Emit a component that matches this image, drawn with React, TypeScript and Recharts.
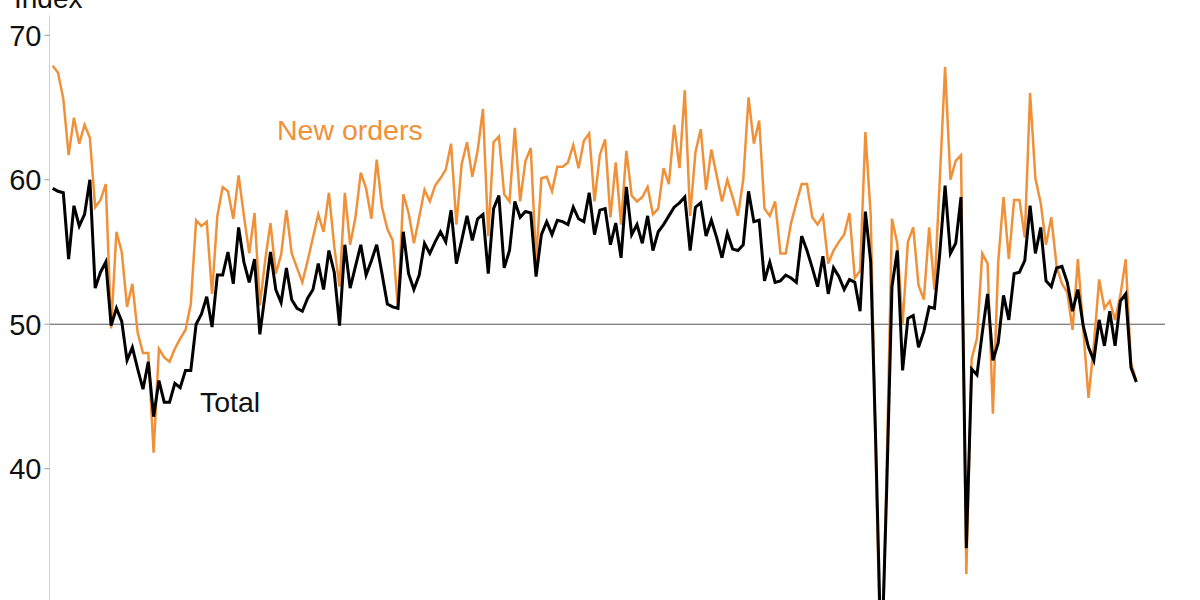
import React from "react";
import { LineChart, Line, XAxis, YAxis, ReferenceLine } from "recharts";

// monthly index readings, oldest first
const newOrders = [
  67.9, 67.4, 65.6, 61.7, 64.3, 62.5, 63.8, 62.9, 58.1, 58.6,
  59.7, 49.7, 56.4, 55.0, 51.2, 52.8, 49.4, 48.0, 48.0, 41.1,
  48.3, 47.7, 47.4, 48.3, 49.0, 49.6, 51.4, 57.2, 56.8, 57.1,
  52.1, 57.5, 59.5, 59.2, 57.3, 60.3, 57.5, 54.9, 57.7, 51.3,
  54.4, 57.0, 53.5, 54.8, 57.9, 54.9, 53.9, 52.9, 54.4, 56.0,
  57.6, 56.4, 59.1, 55.4, 52.6, 59.1, 55.5, 57.4, 60.5, 59.4,
  57.3, 61.4, 58.1, 56.6, 55.8, 51.1, 59.0, 57.7, 55.6, 57.4,
  59.3, 58.5, 59.6, 60.1, 60.7, 62.5, 56.9, 61.1, 62.6, 60.2,
  62.0, 64.9, 56.1, 62.6, 63.0, 59.0, 58.5, 63.6, 58.5, 61.3,
  62.2, 54.4, 60.1, 60.2, 59.2, 60.9, 60.9, 61.2, 62.4, 60.8,
  62.7, 63.2, 58.5, 61.7, 62.8, 57.4, 61.2, 56.9, 62.0, 58.9,
  58.5, 58.8, 59.5, 57.6, 58.0, 60.8, 59.7, 63.8, 60.8, 66.2,
  57.5, 61.9, 63.5, 59.3, 62.1, 60.3, 58.5, 60.0, 58.8, 57.5,
  60.0, 65.7, 62.5, 64.1, 58.0, 57.5, 58.5, 54.9, 54.9, 57.0,
  58.4, 59.7, 59.7, 57.4, 56.9, 57.5, 54.2, 55.1, 55.7, 56.2,
  57.7, 53.2, 53.7, 63.3, 57.5, 40.0, 24.0, 40.0, 57.3, 55.6,
  50.0, 55.7, 56.7, 52.7, 51.7, 56.7, 52.4, 60.0, 67.8, 60.0,
  61.3, 61.7, 32.7, 47.6, 49.0, 54.9, 54.2, 43.8, 54.3, 58.8,
  54.5, 58.6, 58.6, 56.0, 66.0, 60.1, 58.4, 55.5, 57.4, 54.0,
  52.8, 52.2, 49.6, 54.5, 49.7, 44.9, 48.5, 53.1, 51.1, 51.6,
  50.3, 52.0, 54.5, 47.3, 46.1,
];

const total = [
  59.4, 59.2, 59.1, 54.5, 58.2, 56.8, 57.6, 60.0, 52.5, 53.6,
  54.3, 49.9, 51.1, 50.2, 47.5, 48.4, 46.9, 45.5, 47.4, 43.6,
  46.1, 44.6, 44.6, 45.9, 45.6, 46.8, 46.8, 50.0, 50.7, 51.9,
  49.8, 53.4, 53.4, 55.0, 52.8, 56.7, 54.3, 52.9, 54.5, 49.3,
  52.1, 55.0, 52.4, 51.5, 53.9, 51.7, 51.1, 50.9, 51.8, 52.4,
  54.2, 52.4, 55.1, 53.6, 49.9, 55.5, 52.5, 54.0, 55.5, 53.4,
  54.4, 55.5, 53.5, 51.4, 51.2, 51.1, 56.4, 53.5, 52.4, 53.4,
  55.6, 54.9, 55.7, 56.4, 55.7, 57.9, 54.2, 55.8, 57.5, 55.8,
  57.3, 57.6, 53.5, 58.0, 58.9, 53.9, 55.1, 58.5, 57.4, 57.8,
  57.7, 53.3, 56.2, 57.1, 56.2, 57.2, 57.1, 56.9, 58.1, 57.3,
  57.1, 59.1, 56.2, 57.9, 58.0, 55.5, 57.0, 54.6, 59.5, 56.2,
  56.9, 55.6, 57.5, 55.1, 56.4, 56.9, 57.5, 58.1, 58.4, 58.8,
  55.1, 58.1, 58.4, 56.1, 57.2, 56.0, 54.6, 56.3, 55.2, 55.1,
  55.5, 59.2, 57.1, 57.2, 53.0, 54.3, 52.9, 53.0, 53.4, 53.2,
  52.9, 56.1, 55.1, 53.9, 52.6, 54.7, 52.1, 53.9, 53.3, 52.4,
  53.1, 52.9, 50.9, 57.8, 54.3, 41.0, 26.0, 38.5, 52.6, 55.1,
  46.8, 50.4, 50.6, 48.4, 49.5, 51.2, 51.1, 54.9, 59.6, 54.9,
  55.6, 58.8, 34.5, 46.9, 46.5, 49.4, 52.1, 47.5, 48.7, 52.0,
  50.3, 53.5, 53.6, 54.4, 58.2, 54.9, 56.7, 53.0, 52.6, 53.9,
  54.0, 52.9, 50.9, 52.4, 49.9, 48.4, 47.5, 50.3, 48.5, 50.9,
  48.5, 51.6, 52.1, 47.0, 46.0,
];

const yTicks = [40, 50, 60, 70];

const data = total.map((t, i) => ({ month: i, total: t, newOrders: newOrders[i] }));

const FONT = '"Liberation Sans", Arial, sans-serif';
const ORANGE = "#F0913A";

const label = (left: number, top: number, color: string): React.CSSProperties => ({
  position: "absolute",
  left,
  top,
  fontSize: 28.5,
  lineHeight: "28px",
  color,
  whiteSpace: "nowrap",
});

const App = () => {
  return (
    <div
      style={{
        position: "absolute",
        left: 0,
        top: 0,
        width: 1200,
        height: 600,
        overflow: "hidden",
        background: "#fff",
        fontFamily: FONT,
      }}
    >
      <LineChart
        width={1200}
        height={600}
        data={data}
        margin={{ top: 15.5, right: 35, bottom: 0, left: 0 }}
      >
        <XAxis type="number" dataKey="month" domain={[-0.6, 209.4]} hide allowDataOverflow />
        <YAxis
          domain={[30.91, 71.37]}
          ticks={yTicks}
          allowDataOverflow
          width={49.5}
          tickSize={5}
          tickMargin={3}
          axisLine={{ stroke: "#d0d0d0" }}
          tickLine={{ stroke: "#999" }}
          tick={{ fontSize: 29, fill: "#111", fontFamily: FONT }}
        />
        <ReferenceLine y={50} stroke="#555" strokeWidth={1} />
        <Line
          dataKey="newOrders"
          stroke={ORANGE}
          strokeWidth={2.5}
          dot={false}
          isAnimationActive={false}
        />
        <Line
          dataKey="total"
          stroke="#000"
          strokeWidth={3}
          dot={false}
          isAnimationActive={false}
        />
      </LineChart>
      <div style={{ ...label(14, -15, "#111"), fontSize: 28 }}>Index</div>
      <div style={label(277, 116, ORANGE)}>New orders</div>
      <div style={label(200, 388, "#111")}>Total</div>
    </div>
  );
};

export default App;
